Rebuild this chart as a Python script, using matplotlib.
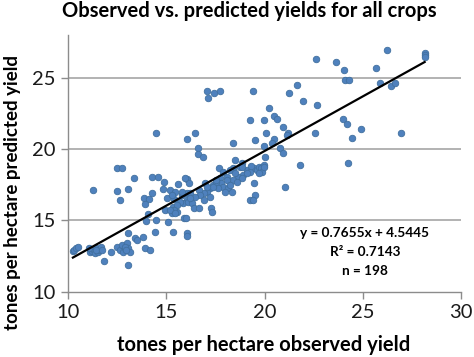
import numpy as np
import matplotlib
matplotlib.use("Agg")
import matplotlib.pyplot as plt

plt.rcParams['font.family'] = ['Lato', 'DejaVu Sans']

# observed yield (t/ha) and predicted yield (t/ha)
observed = [
    10.25, 10.3, 10.4, 10.5, 11.1, 11.2, 11.3, 11.35, 11.45, 11.55,
    11.6, 11.7, 11.05, 11.25, 11.85, 12.2, 12.5, 12.65, 12.75, 12.8,
    12.9, 13.0, 13.05, 13.15, 12.9, 13.05, 13.05, 13.4, 13.5, 13.8,
    13.9, 14.15, 14.45, 13.95, 14.05, 14.5, 12.65, 12.5, 12.5, 12.75,
    13.35, 13.05, 13.85, 14.1, 13.9, 14.25, 14.25, 14.6, 14.9, 14.85,
    15.2, 15.05, 15.4, 15.8, 14.95, 15.35, 15.55, 15.3, 15.1, 15.9,
    15.35, 15.6, 16.05, 16.15, 16.05, 16.0, 16.05, 16.05, 14.5, 16.05,
    16.45, 16.6, 16.6, 16.85, 17.05, 17.1, 17.45, 17.75, 18.4, 18.5,
    19.4, 19.25, 19.95, 20.5, 20.65, 20.25, 20.95, 21.2, 21.15, 20.1,
    19.5, 20.5, 20.4, 19.95, 20.8, 20.95, 20.05, 21.25, 21.65, 21.8,
    21.05, 19.45, 19.5, 19.25, 19.4, 17.3, 17.35, 22.6, 23.65, 24.05,
    25.65, 26.25, 28.15, 28.15, 28.15, 24.1, 24.3, 25.9, 26.45, 26.65,
    21.95, 22.65, 24.0, 24.2, 24.9, 22.55, 24.45, 26.95, 24.25, 17.7,
    17.9, 18.85, 18.75, 18.4, 18.25, 19.1, 19.45, 19.6, 19.7, 19.8,
    19.95, 19.85, 19.25, 18.9, 18.65, 18.85, 18.5, 18.4, 18.6, 19.1,
    19.95, 19.7, 17.75, 17.8, 17.9, 18.15, 18.35, 18.0, 17.65, 17.4,
    17.25, 17.05, 16.9, 16.65, 16.7, 16.45, 16.2, 16.05, 15.85, 15.7,
    15.55, 15.4, 15.2, 15.45, 16.1, 16.3, 16.4, 16.65, 15.95, 15.45,
    15.3, 15.8, 16.9, 17.25, 17.55, 16.95, 18.1, 18.1, 18.25, 17.55,
    17.4, 17.05, 16.2, 18.85, 11.4, 12.95, 11.75, 19.3,
]
predicted = [
    12.85, 12.95, 13.05, 13.15, 12.8, 12.85, 12.9, 12.7, 13.05, 12.8,
    12.95, 13.1, 13.05, 17.1, 12.15, 12.75, 13.15, 12.9, 13.25, 12.8,
    13.05, 13.4, 13.05, 12.8, 13.15, 11.85, 14.1, 13.75, 13.6, 13.85,
    13.05, 12.9, 14.2, 14.95, 15.45, 15.05, 16.45, 17.05, 18.7, 18.7,
    17.95, 17.2, 16.55, 16.5, 16.15, 16.9, 18.05, 18.05, 17.7, 17.2,
    17.1, 16.55, 16.5, 16.8, 15.7, 15.95, 15.6, 15.5, 14.9, 15.15,
    14.2, 17.55, 17.9, 17.6, 16.9, 15.15, 14.1, 13.9, 21.1, 20.7,
    21.1, 20.05, 19.65, 19.45, 24.05, 23.6, 23.95, 24.05, 20.4, 19.2,
    24.05, 22.0, 22.0, 22.3, 22.1, 22.85, 21.55, 21.1, 20.95, 21.1,
    20.65, 20.7, 20.45, 20.2, 20.05, 19.7, 19.45, 23.95, 24.5, 18.9,
    17.35, 17.6, 16.8, 16.4, 16.45, 15.85, 15.6, 26.3, 26.1, 25.5,
    25.65, 26.9, 26.75, 26.6, 26.45, 24.85, 24.8, 24.65, 24.4, 24.65,
    23.35, 23.1, 22.1, 21.75, 21.4, 21.1, 20.8, 21.1, 19.0, 18.65,
    18.4, 19.0, 18.75, 18.65, 18.55, 18.55, 18.65, 18.5, 18.75, 18.65,
    18.9, 18.4, 18.4, 18.2, 18.05, 17.95, 18.3, 17.85, 17.7, 18.3,
    18.75, 18.3, 17.95, 17.6, 17.35, 17.25, 17.0, 17.0, 17.25, 17.5,
    17.25, 17.0, 16.9, 17.15, 16.8, 16.65, 16.9, 16.45, 16.2, 16.3,
    16.1, 15.75, 15.75, 15.5, 16.3, 16.2, 15.85, 15.85, 17.95, 17.0,
    16.8, 17.0, 16.45, 16.65, 17.7, 17.6, 18.05, 17.85, 17.5, 17.85,
    17.35, 17.35, 16.55, 18.75, 12.95, 12.95, 12.9, 18.8,
]

# linear trendline as reported on the chart
slope = 0.7655
intercept = 4.5445
r_squared = 0.7143

fig = plt.figure(figsize=(4.74, 3.57), dpi=100)
ax = fig.add_axes([68 / 474, 1 - 291.7 / 357, (461 - 68) / 474, (291.7 - 34.8) / 357])

ax.scatter(observed, predicted, s=22, c='#4F81BD', edgecolors='#41709f',
           linewidths=0.6, zorder=3)

xs = np.array([min(observed), max(observed)])
ax.plot(xs, slope * xs + intercept, color='black', lw=1.6, zorder=4)

ax.set_xlim(10, 30)
ax.set_ylim(10, 28)
ax.set_xticks([10, 15, 20, 25, 30])
ax.set_yticks([10, 15, 20, 25])
for y in [15, 20, 25]:
    ax.axhline(y, color='#a6a6a6', lw=1.2, zorder=1)

for side in ['top', 'right']:
    ax.spines[side].set_visible(False)
for side in ['left', 'bottom']:
    ax.spines[side].set_color('#8c8c8c')
    ax.spines[side].set_linewidth(1.0)
ax.tick_params(axis='both', direction='out', length=5, width=1,
               color='#8c8c8c', labelsize=14.5, labelcolor='#1a1a1a', pad=4)

fig.text(0.527, 0.970, 'Observed vs. predicted yields for all crops',
         ha='center', va='center', fontsize=14.5, fontweight='bold')
fig.text(0.557, 0.034, 'tones per hectare observed yield',
         ha='center', va='center', fontsize=14.5, fontweight='bold')
fig.text(0.026, 0.462, 'tones per hectare predicted yield', rotation=90,
         ha='center', va='center', fontsize=13.5, fontweight='bold')

fig.text(0.77, 1 - 232.7 / 357, f'y = {slope}x + {intercept}',
         ha='center', va='center', fontsize=9.8, fontweight='bold')
fig.text(0.77, 1 - 251.7 / 357, f'R\u00b2 = {r_squared}',
         ha='center', va='center', fontsize=9.8, fontweight='bold')
fig.text(0.77, 1 - 271 / 357, f'n = {len(observed)}',
         ha='center', va='center', fontsize=9.8, fontweight='bold')

fig.savefig('out.png', dpi=100)
